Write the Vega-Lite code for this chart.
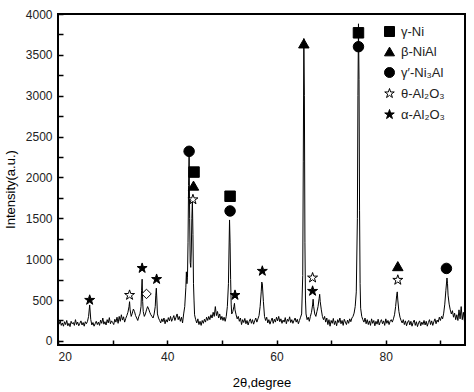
{
  "$schema": "https://vega.github.io/schema/vega-lite/v6.json",
  "width": 407,
  "height": 331,
  "autosize": {"type": "none"},
  "padding": {"left": 58, "top": 14, "right": 9, "bottom": 47},
  "config": {
    "view": {"stroke": "black", "strokeWidth": 2},
    "font": "Liberation Sans",
    "axis": {"grid": false, "domain": false, "tickColor": "black", "tickWidth": 1.5, "labelColor": "#222", "labelFont": "Liberation Sans", "labelFontSize": 12, "titleFont": "Liberation Sans", "titleFontWeight": "normal", "titleColor": "black", "titleFontSize": 13}
  },
  "datasets": {
    "xrd": [
      {"t":20.0,"i":230},{"t":20.2,"i":205},{"t":20.4,"i":245},{"t":20.6,"i":190},{"t":20.8,"i":220},{"t":21.0,"i":180},{"t":21.2,"i":235},{"t":21.4,"i":200},{"t":21.6,"i":250},{"t":21.8,"i":185},
      {"t":22.0,"i":215},{"t":22.2,"i":175},{"t":22.4,"i":240},{"t":22.6,"i":210},{"t":22.8,"i":225},{"t":23.0,"i":190},{"t":23.2,"i":260},{"t":23.4,"i":200},{"t":23.6,"i":230},{"t":23.8,"i":185},
      {"t":24.0,"i":215},{"t":24.2,"i":245},{"t":24.4,"i":195},{"t":24.6,"i":225},{"t":24.8,"i":180},{"t":25.0,"i":235},{"t":25.2,"i":210},{"t":25.4,"i":240},{"t":25.6,"i":300},{"t":25.8,"i":440},
      {"t":26.0,"i":260},{"t":26.2,"i":195},{"t":26.4,"i":225},{"t":26.6,"i":180},{"t":26.8,"i":210},{"t":27.0,"i":240},{"t":27.2,"i":200},{"t":27.4,"i":230},{"t":27.6,"i":190},{"t":27.8,"i":255},
      {"t":28.0,"i":215},{"t":28.2,"i":280},{"t":28.4,"i":205},{"t":28.6,"i":235},{"t":28.8,"i":195},{"t":29.0,"i":260},{"t":29.2,"i":220},{"t":29.4,"i":285},{"t":29.6,"i":210},{"t":29.8,"i":245},
      {"t":30.0,"i":225},{"t":30.2,"i":200},{"t":30.4,"i":265},{"t":30.6,"i":230},{"t":30.8,"i":290},{"t":31.0,"i":215},{"t":31.2,"i":300},{"t":31.4,"i":240},{"t":31.6,"i":320},{"t":31.8,"i":255},
      {"t":32.0,"i":295},{"t":32.2,"i":230},{"t":32.4,"i":275},{"t":32.6,"i":310},{"t":32.8,"i":350},{"t":33.0,"i":420},{"t":33.1,"i":480},{"t":33.2,"i":380},{"t":33.4,"i":300},{"t":33.6,"i":340},
      {"t":33.8,"i":390},{"t":34.0,"i":360},{"t":34.2,"i":310},{"t":34.4,"i":280},{"t":34.6,"i":250},{"t":34.8,"i":300},{"t":35.0,"i":330},{"t":35.2,"i":420},{"t":35.3,"i":620},{"t":35.4,"i":755},
      {"t":35.5,"i":480},{"t":35.6,"i":360},{"t":35.8,"i":300},{"t":36.0,"i":330},{"t":36.2,"i":380},{"t":36.4,"i":420},{"t":36.6,"i":390},{"t":36.8,"i":350},{"t":37.0,"i":320},{"t":37.2,"i":300},
      {"t":37.4,"i":280},{"t":37.6,"i":330},{"t":37.8,"i":420},{"t":37.9,"i":560},{"t":38.0,"i":645},{"t":38.1,"i":500},{"t":38.2,"i":330},{"t":38.4,"i":280},{"t":38.6,"i":250},{"t":38.8,"i":220},
      {"t":39.0,"i":270},{"t":39.2,"i":235},{"t":39.4,"i":280},{"t":39.6,"i":210},{"t":39.8,"i":260},{"t":40.0,"i":230},{"t":40.2,"i":285},{"t":40.4,"i":245},{"t":40.6,"i":300},{"t":40.8,"i":240},
      {"t":41.0,"i":275},{"t":41.2,"i":310},{"t":41.4,"i":250},{"t":41.6,"i":290},{"t":41.8,"i":330},{"t":42.0,"i":260},{"t":42.2,"i":300},{"t":42.4,"i":240},{"t":42.6,"i":290},{"t":42.8,"i":220},
      {"t":43.0,"i":330},{"t":43.2,"i":420},{"t":43.4,"i":650},{"t":43.5,"i":845},{"t":43.6,"i":700},{"t":43.7,"i":780},{"t":43.8,"i":1200},{"t":43.9,"i":1900},{"t":44.0,"i":2280},{"t":44.1,"i":1500},
      {"t":44.2,"i":960},{"t":44.3,"i":900},{"t":44.4,"i":1100},{"t":44.5,"i":1500},{"t":44.6,"i":1720},{"t":44.7,"i":1300},{"t":44.8,"i":700},{"t":44.9,"i":500},{"t":45.0,"i":320},{"t":45.2,"i":260},
      {"t":45.4,"i":220},{"t":45.6,"i":270},{"t":45.8,"i":200},{"t":46.0,"i":240},{"t":46.2,"i":190},{"t":46.4,"i":250},{"t":46.6,"i":215},{"t":46.8,"i":265},{"t":47.0,"i":230},{"t":47.2,"i":290},
      {"t":47.4,"i":250},{"t":47.6,"i":300},{"t":47.8,"i":260},{"t":48.0,"i":320},{"t":48.2,"i":280},{"t":48.4,"i":350},{"t":48.6,"i":300},{"t":48.8,"i":420},{"t":49.0,"i":310},{"t":49.2,"i":360},
      {"t":49.4,"i":280},{"t":49.6,"i":330},{"t":49.8,"i":260},{"t":50.0,"i":300},{"t":50.2,"i":250},{"t":50.4,"i":290},{"t":50.6,"i":240},{"t":50.8,"i":300},{"t":51.0,"i":420},{"t":51.2,"i":700},
      {"t":51.3,"i":1100},{"t":51.4,"i":1480},{"t":51.5,"i":1200},{"t":51.6,"i":750},{"t":51.7,"i":450},{"t":51.8,"i":330},{"t":52.0,"i":360},{"t":52.2,"i":420},{"t":52.3,"i":460},{"t":52.4,"i":380},
      {"t":52.6,"i":320},{"t":52.8,"i":270},{"t":53.0,"i":300},{"t":53.2,"i":240},{"t":53.4,"i":280},{"t":53.6,"i":200},{"t":53.8,"i":260},{"t":54.0,"i":225},{"t":54.2,"i":275},{"t":54.4,"i":210},
      {"t":54.6,"i":250},{"t":54.8,"i":195},{"t":55.0,"i":240},{"t":55.2,"i":270},{"t":55.4,"i":215},{"t":55.6,"i":260},{"t":55.8,"i":205},{"t":56.0,"i":245},{"t":56.2,"i":280},{"t":56.4,"i":230},
      {"t":56.6,"i":270},{"t":56.8,"i":310},{"t":57.0,"i":420},{"t":57.2,"i":600},{"t":57.3,"i":720},{"t":57.4,"i":700},{"t":57.6,"i":480},{"t":57.8,"i":300},{"t":58.0,"i":250},{"t":58.2,"i":290},
      {"t":58.4,"i":220},{"t":58.6,"i":260},{"t":58.8,"i":205},{"t":59.0,"i":245},{"t":59.2,"i":280},{"t":59.4,"i":215},{"t":59.6,"i":265},{"t":59.8,"i":230},{"t":60.0,"i":290},{"t":60.2,"i":245},
      {"t":60.4,"i":300},{"t":60.6,"i":235},{"t":60.8,"i":270},{"t":61.0,"i":215},{"t":61.2,"i":255},{"t":61.4,"i":230},{"t":61.6,"i":285},{"t":61.8,"i":210},{"t":62.0,"i":265},{"t":62.2,"i":240},
      {"t":62.4,"i":295},{"t":62.6,"i":225},{"t":62.8,"i":260},{"t":63.0,"i":215},{"t":63.2,"i":250},{"t":63.4,"i":280},{"t":63.6,"i":230},{"t":63.8,"i":265},{"t":64.0,"i":210},{"t":64.2,"i":250},
      {"t":64.4,"i":290},{"t":64.6,"i":330},{"t":64.8,"i":800},{"t":64.9,"i":2200},{"t":65.0,"i":3700},{"t":65.1,"i":3000},{"t":65.2,"i":1200},{"t":65.3,"i":500},{"t":65.4,"i":330},{"t":65.6,"i":260},
      {"t":65.8,"i":290},{"t":66.0,"i":240},{"t":66.2,"i":300},{"t":66.4,"i":350},{"t":66.6,"i":440},{"t":66.7,"i":510},{"t":66.8,"i":420},{"t":67.0,"i":330},{"t":67.2,"i":300},{"t":67.4,"i":360},
      {"t":67.6,"i":420},{"t":67.8,"i":520},{"t":67.9,"i":570},{"t":68.0,"i":480},{"t":68.2,"i":380},{"t":68.4,"i":300},{"t":68.6,"i":260},{"t":68.8,"i":300},{"t":69.0,"i":230},{"t":69.2,"i":280},
      {"t":69.4,"i":200},{"t":69.6,"i":260},{"t":69.8,"i":180},{"t":70.0,"i":250},{"t":70.2,"i":215},{"t":70.4,"i":275},{"t":70.6,"i":200},{"t":70.8,"i":245},{"t":71.0,"i":185},{"t":71.2,"i":260},
      {"t":71.4,"i":225},{"t":71.6,"i":280},{"t":71.8,"i":210},{"t":72.0,"i":250},{"t":72.2,"i":190},{"t":72.4,"i":265},{"t":72.6,"i":230},{"t":72.8,"i":200},{"t":73.0,"i":255},{"t":73.2,"i":215},
      {"t":73.4,"i":270},{"t":73.6,"i":235},{"t":73.8,"i":280},{"t":74.0,"i":300},{"t":74.2,"i":340},{"t":74.4,"i":420},{"t":74.6,"i":600},{"t":74.8,"i":1500},{"t":74.9,"i":3000},{"t":75.0,"i":3880},
      {"t":75.1,"i":3200},{"t":75.2,"i":1600},{"t":75.3,"i":700},{"t":75.4,"i":400},{"t":75.6,"i":300},{"t":75.8,"i":260},{"t":76.0,"i":230},{"t":76.2,"i":280},{"t":76.4,"i":210},{"t":76.6,"i":260},
      {"t":76.8,"i":200},{"t":77.0,"i":245},{"t":77.2,"i":190},{"t":77.4,"i":270},{"t":77.6,"i":215},{"t":77.8,"i":250},{"t":78.0,"i":185},{"t":78.2,"i":240},{"t":78.4,"i":205},{"t":78.6,"i":265},
      {"t":78.8,"i":195},{"t":79.0,"i":235},{"t":79.2,"i":260},{"t":79.4,"i":210},{"t":79.6,"i":245},{"t":79.8,"i":190},{"t":80.0,"i":270},{"t":80.2,"i":215},{"t":80.4,"i":250},{"t":80.6,"i":200},
      {"t":80.8,"i":240},{"t":81.0,"i":260},{"t":81.2,"i":230},{"t":81.4,"i":270},{"t":81.6,"i":320},{"t":81.8,"i":420},{"t":82.0,"i":560},{"t":82.1,"i":600},{"t":82.2,"i":500},{"t":82.4,"i":360},
      {"t":82.6,"i":290},{"t":82.8,"i":250},{"t":83.0,"i":220},{"t":83.2,"i":260},{"t":83.4,"i":200},{"t":83.6,"i":245},{"t":83.8,"i":185},{"t":84.0,"i":230},{"t":84.2,"i":250},{"t":84.4,"i":195},
      {"t":84.6,"i":240},{"t":84.8,"i":180},{"t":85.0,"i":225},{"t":85.2,"i":255},{"t":85.4,"i":190},{"t":85.6,"i":235},{"t":85.8,"i":175},{"t":86.0,"i":220},{"t":86.2,"i":245},{"t":86.4,"i":185},
      {"t":86.6,"i":230},{"t":86.8,"i":200},{"t":87.0,"i":250},{"t":87.2,"i":195},{"t":87.4,"i":240},{"t":87.6,"i":180},{"t":87.8,"i":225},{"t":88.0,"i":260},{"t":88.2,"i":200},{"t":88.4,"i":245},
      {"t":88.6,"i":190},{"t":88.8,"i":235},{"t":89.0,"i":270},{"t":89.2,"i":210},{"t":89.4,"i":255},{"t":89.6,"i":230},{"t":89.8,"i":290},{"t":90.0,"i":250},{"t":90.2,"i":300},{"t":90.4,"i":270},
      {"t":90.6,"i":340},{"t":90.8,"i":450},{"t":91.0,"i":620},{"t":91.2,"i":770},{"t":91.3,"i":700},{"t":91.4,"i":560},{"t":91.6,"i":450},{"t":91.8,"i":380},{"t":92.0,"i":330},{"t":92.2,"i":370},
      {"t":92.4,"i":290},{"t":92.6,"i":340},{"t":92.8,"i":260},{"t":93.0,"i":320},{"t":93.2,"i":250},{"t":93.4,"i":380},{"t":93.6,"i":270},{"t":93.8,"i":420},{"t":94.0,"i":260},{"t":94.2,"i":350},
      {"t":94.4,"i":240},{"t":94.5,"i":300}
    ],
    "peaks": [
      {"t":25.8,"i":500,"phase":"α-Al₂O₃"},
      {"t":35.4,"i":890,"phase":"α-Al₂O₃"},
      {"t":38.05,"i":755,"phase":"α-Al₂O₃"},
      {"t":52.4,"i":560,"phase":"α-Al₂O₃"},
      {"t":57.4,"i":855,"phase":"α-Al₂O₃"},
      {"t":66.6,"i":610,"phase":"α-Al₂O₃"},
      {"t":33.1,"i":560,"phase":"θ-Al₂O₃"},
      {"t":44.7,"i":1730,"phase":"θ-Al₂O₃"},
      {"t":66.6,"i":773,"phase":"θ-Al₂O₃"},
      {"t":82.2,"i":745,"phase":"θ-Al₂O₃"},
      {"t":44.0,"i":2320,"phase":"γ′-Ni₃Al"},
      {"t":51.5,"i":1590,"phase":"γ′-Ni₃Al"},
      {"t":75.0,"i":3600,"phase":"γ′-Ni₃Al"},
      {"t":91.1,"i":887,"phase":"γ′-Ni₃Al"},
      {"t":44.9,"i":2066,"phase":"γ-Ni"},
      {"t":51.5,"i":1770,"phase":"γ-Ni"},
      {"t":75.0,"i":3770,"phase":"γ-Ni"},
      {"t":44.8,"i":1900,"phase":"β-NiAl"},
      {"t":65.0,"i":3640,"phase":"β-NiAl"},
      {"t":82.2,"i":915,"phase":"β-NiAl"}
    ],
    "extra": [
      {"t":36.2,"i":575}
    ]
  },
  "encoding": {
    "x": {"field": "t", "type": "quantitative", "scale": {"domain": [20, 94.5], "nice": false, "zero": false},
      "axis": {"orient": "bottom", "title": "2θ,degree", "values": [20,30,40,50,60,70,80,90], "format": "d", "labelExpr": "datum.value % 20 === 0 ? datum.label : ''", "offset": -5, "tickSize": 5, "labelPadding": 6, "titleY": 42, "titleBaseline": "middle"}},
    "y": {"field": "i", "type": "quantitative", "scale": {"domain": [-50, 4000], "nice": false, "zero": false},
      "axis": {"orient": "left", "title": "Intensity(a.u.)", "format": "d", "values": [0,250,500,750,1000,1250,1500,1750,2000,2250,2500,2750,3000,3250,3500,3750,4000], "labelExpr": "datum.value % 500 === 0 ? datum.label : ''", "offset": -5, "tickSize": 5, "labelPadding": 6, "titleX": -53, "titleY": 175, "titleAngle": -90, "titleAlign": "center", "titleBaseline": "middle"}}
  },
  "layer": [
    {
      "data": {"name": "xrd"},
      "mark": {"type": "line", "color": "black", "strokeWidth": 1}
    },
    {
      "data": {"name": "extra"},
      "mark": {"type": "point", "shape": "diamond", "filled": true, "fill": "white", "stroke": "black", "strokeWidth": 1, "size": 90, "opacity": 1}
    },
    {
      "data": {"name": "peaks"},
      "mark": {"type": "point", "filled": true, "strokeWidth": 1, "opacity": 1, "size": 110},
      "encoding": {
        "shape": {"field": "phase", "type": "nominal",
          "scale": {"domain": ["γ-Ni","β-NiAl","γ′-Ni₃Al","θ-Al₂O₃","α-Al₂O₃"], "range": ["square","triangle-up","circle","M0,-1L0.2245,-0.309L0.951,-0.309L0.363,0.118L0.588,0.809L0,0.382L-0.588,0.809L-0.363,0.118L-0.951,-0.309L-0.2245,-0.309Z","M0,-1L0.2245,-0.309L0.951,-0.309L0.363,0.118L0.588,0.809L0,0.382L-0.588,0.809L-0.363,0.118L-0.951,-0.309L-0.2245,-0.309Z"]},
          "legend": {"title": null, "orient": "none", "legendX": 325, "legendY": 11, "padding": 0, "rowPadding": 6, "labelFontSize": 13, "labelFont": "Liberation Sans", "labelColor": "#222", "symbolSize": 100, "symbolStrokeWidth": 1, "labelOffset": 5}},
        "fill": {"field": "phase", "type": "nominal",
          "scale": {"domain": ["γ-Ni","β-NiAl","γ′-Ni₃Al","θ-Al₂O₃","α-Al₂O₃"], "range": ["black","black","black","white","black"]},
          "legend": {"title": null, "orient": "none", "legendX": 325, "legendY": 11, "padding": 0, "rowPadding": 6, "labelFontSize": 13, "labelFont": "Liberation Sans", "labelColor": "#222", "symbolSize": 100, "symbolStrokeWidth": 1, "labelOffset": 5}},
        "stroke": {"field": "phase", "type": "nominal",
          "scale": {"domain": ["γ-Ni","β-NiAl","γ′-Ni₃Al","θ-Al₂O₃","α-Al₂O₃"], "range": ["black","black","black","black","black"]},
          "legend": {"title": null, "orient": "none", "legendX": 325, "legendY": 11, "padding": 0, "rowPadding": 6, "labelFontSize": 13, "labelFont": "Liberation Sans", "labelColor": "#222", "symbolSize": 100, "symbolStrokeWidth": 1, "labelOffset": 5}}
      }
    }
  ]
}
